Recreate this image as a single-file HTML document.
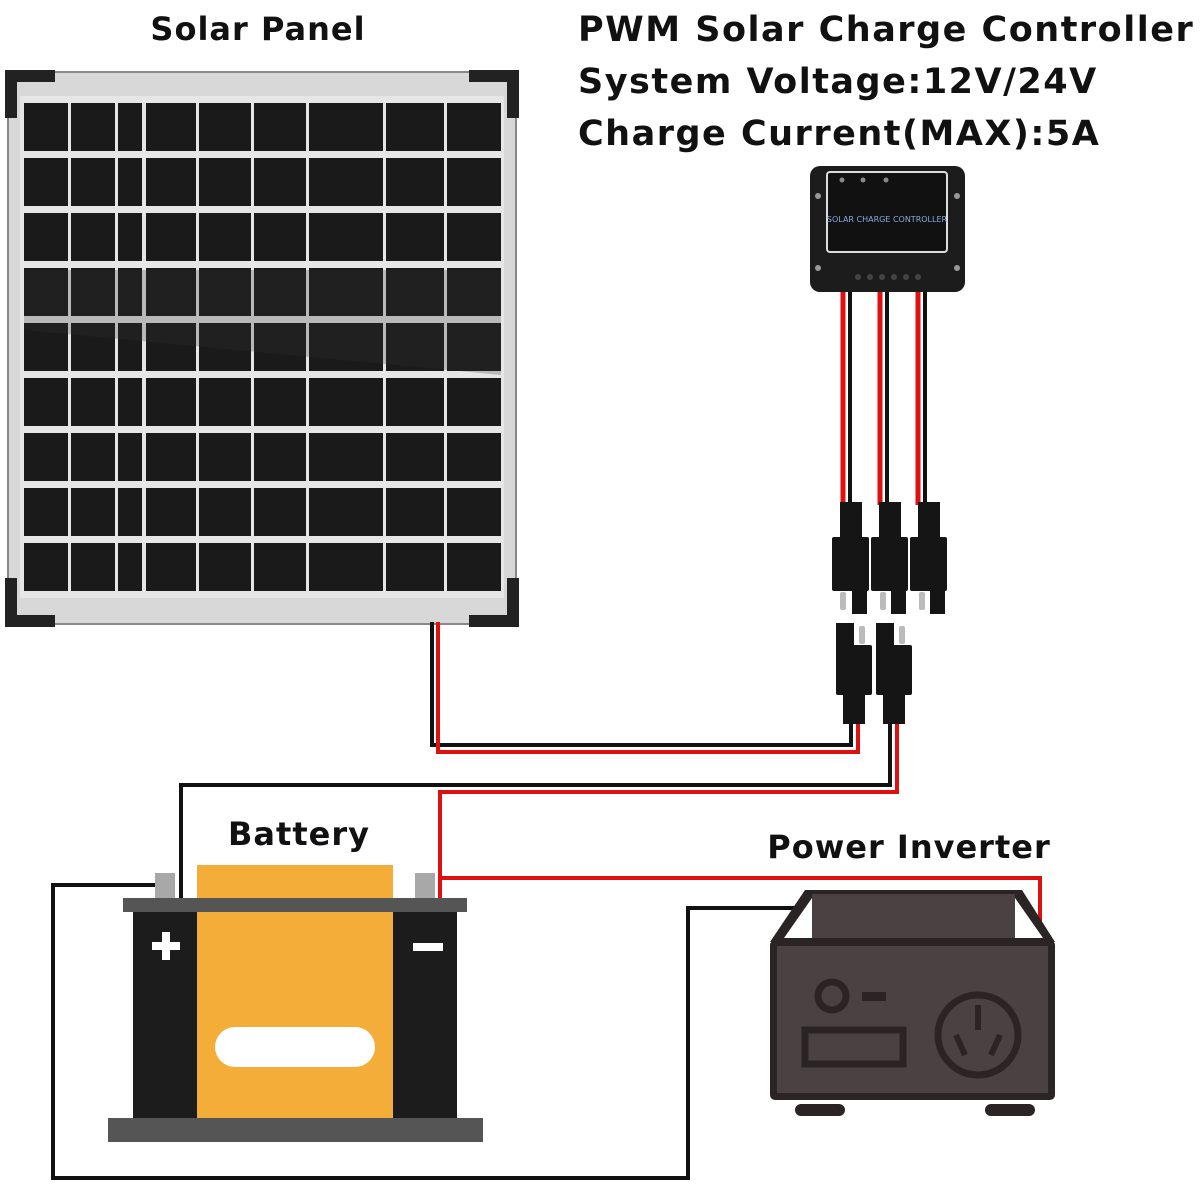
<!DOCTYPE html>
<html><head><meta charset="utf-8"><style>
html,body{margin:0;padding:0;background:#fff}
svg{display:block}
text{font-family:"DejaVu Sans","Liberation Sans",sans-serif;font-weight:bold;fill:#111}
</style></head><body>
<svg width="1200" height="1200" viewBox="0 0 1200 1200" xmlns="http://www.w3.org/2000/svg">
<defs>
<g id="row">
<rect x="24" y="0" width="44" height="48"/><rect x="71" y="0" width="44" height="48"/><rect x="118" y="0" width="24" height="48"/>
<rect x="146" y="0" width="50" height="48"/><rect x="199" y="0" width="52" height="48"/><rect x="254" y="0" width="52" height="48"/>
<rect x="309" y="0" width="74" height="48"/><rect x="386" y="0" width="58" height="48"/><rect x="447" y="0" width="54" height="48"/>
</g>
</defs>
<!-- Titles -->
<text x="258" y="40" font-size="32" text-anchor="middle" letter-spacing="1">Solar Panel</text>
<text x="578" y="41" font-size="35" letter-spacing="1.5">PWM Solar Charge Controller</text>
<text x="578" y="93" font-size="35" letter-spacing="1.5">System Voltage:12V/24V</text>
<text x="578" y="145" font-size="35" letter-spacing="1.5">Charge Current(MAX):5A</text>
<text x="299" y="845" font-size="32" text-anchor="middle" letter-spacing="1">Battery</text>
<text x="909" y="858" font-size="32" text-anchor="middle" letter-spacing="1">Power Inverter</text>

<!-- Solar panel -->
<rect x="8" y="72" width="508" height="552" fill="#d8d8d8" stroke="#888" stroke-width="2"/>
<rect x="20" y="96" width="484" height="502" fill="#e6e6e6"/>
<g fill="#1a1a1a">
<use href="#row" y="103"/><use href="#row" y="158"/><use href="#row" y="213"/><use href="#row" y="268"/>
<use href="#row" y="323"/><use href="#row" y="378"/><use href="#row" y="433"/><use href="#row" y="488"/><use href="#row" y="543"/>
</g>
<polygon points="24,270 501,270 501,375 24,330" fill="#333" opacity="0.25"/>
<!-- corner brackets -->
<g fill="#222">
<path d="M5,70 H55 V82 H17 V118 H5 Z"/>
<path d="M519,70 H469 V82 H507 V118 H519 Z"/>
<path d="M5,627 H55 V615 H17 V578 H5 Z"/>
<path d="M519,627 H469 V615 H507 V578 H519 Z"/>
</g>

<!-- Wires -->
<g fill="none" stroke-width="4">
<polyline points="432,622 432,745 851,745 851,720" stroke="#111"/>
<polyline points="438,622 438,752 858,752 858,720" stroke="#e01010"/>
<polyline points="890,722 890,785 181,785 181,898" stroke="#111"/>
<polyline points="897,722 897,792 440,792 440,898" stroke="#e01010"/>
<polyline points="440,878 1040,878 1040,935" stroke="#e01010"/>
<polyline points="155,885 53,885 53,1178 688,1178 688,908 802,908" stroke="#111"/>
<line x1="843" y1="290" x2="843" y2="505" stroke="#e01010" stroke-width="5"/>
<line x1="850" y1="290" x2="850" y2="505" stroke="#111" stroke-width="4"/>
<line x1="880" y1="290" x2="880" y2="505" stroke="#e01010" stroke-width="5"/>
<line x1="887" y1="290" x2="887" y2="505" stroke="#111" stroke-width="4"/>
<line x1="918" y1="290" x2="918" y2="505" stroke="#e01010" stroke-width="5"/>
<line x1="925" y1="290" x2="925" y2="505" stroke="#111" stroke-width="4"/>
</g>

<!-- Controller -->
<rect x="810" y="166" width="155" height="126" rx="10" fill="#1c1c1c"/>
<rect x="827" y="172" width="120" height="80" rx="3" fill="#111" stroke="#ddd" stroke-width="2"/>
<text x="887" y="222" font-size="8" text-anchor="middle" style="fill:#8aa8e0;font-weight:normal">SOLAR CHARGE CONTROLLER</text>
<circle cx="842" cy="180" r="2.5" fill="#888"/><circle cx="863" cy="180" r="2.5" fill="#888"/><circle cx="886" cy="180" r="2.5" fill="#888"/>
<circle cx="818" cy="196" r="3" fill="#999"/><circle cx="957" cy="196" r="3" fill="#999"/><circle cx="818" cy="268" r="3" fill="#999"/><circle cx="957" cy="268" r="3" fill="#999"/>
<g fill="#444"><circle cx="858" cy="277" r="3"/><circle cx="870" cy="277" r="3"/><circle cx="882" cy="277" r="3"/><circle cx="894" cy="277" r="3"/><circle cx="906" cy="277" r="3"/><circle cx="918" cy="277" r="3"/></g>

<!-- connectors -->
<g fill="#151515">
<rect x="840" y="502" width="22" height="36"/><rect x="832" y="537" width="37" height="54" rx="2"/><rect x="852" y="590" width="15" height="24"/>
<rect x="879" y="502" width="22" height="36"/><rect x="871" y="537" width="37" height="54" rx="2"/><rect x="891" y="590" width="15" height="24"/>
<rect x="918" y="502" width="22" height="36"/><rect x="910" y="537" width="37" height="54" rx="2"/><rect x="930" y="590" width="15" height="24"/>
<rect x="836" y="623" width="18" height="24"/><rect x="836" y="645" width="36" height="50" rx="2"/><rect x="843" y="694" width="22" height="30"/>
<rect x="876" y="623" width="18" height="24"/><rect x="876" y="645" width="36" height="50" rx="2"/><rect x="883" y="694" width="22" height="30"/>
</g>
<g fill="#bbb"><rect x="840" y="592" width="6" height="18" rx="2"/><rect x="880" y="592" width="6" height="18" rx="2"/><rect x="919" y="592" width="6" height="18" rx="2"/>
<rect x="859" y="626" width="6" height="18" rx="2"/><rect x="899" y="626" width="6" height="18" rx="2"/></g>

<!-- Battery -->
<rect x="197" y="865" width="196" height="40" fill="#f5ad3a"/>
<rect x="155" y="873" width="20" height="27" fill="#a8a8a8"/>
<rect x="415" y="873" width="20" height="27" fill="#a8a8a8"/>
<rect x="123" y="898" width="344" height="14" fill="#555"/>
<rect x="133" y="912" width="324" height="206" fill="#1c1c1c"/>
<rect x="197" y="912" width="196" height="206" fill="#f5ad3a"/>
<rect x="215" y="1027" width="160" height="40" rx="20" fill="#fff"/>
<rect x="108" y="1118" width="375" height="24" fill="#555"/>
<rect x="152" y="942" width="28" height="8" fill="#fff"/><rect x="162" y="932" width="8" height="28" fill="#fff"/>
<rect x="413" y="943" width="30" height="8" fill="#fff"/>

<!-- Inverter -->
<polygon points="805,890 1022,890 1055,942 770,942" fill="#2a2424"/>
<polygon points="812,898 784,938 812,938" fill="#fff"/>
<polygon points="1015,898 1043,938 1015,938" fill="#fff"/>
<rect x="812" y="894" width="203" height="44" fill="#4a4242"/>
<rect x="770" y="940" width="285" height="160" rx="5" fill="#2a2424"/>
<rect x="777" y="946" width="271" height="147" fill="#4a4242"/>
<circle cx="832" cy="996" r="14" fill="#4a4242" stroke="#2a2424" stroke-width="7"/>
<rect x="862" y="992" width="24" height="9" fill="#2a2424"/>
<rect x="805" y="1030" width="98" height="34" fill="#4a4242" stroke="#2a2424" stroke-width="7"/>
<circle cx="978" cy="1035" r="40" fill="#4a4242" stroke="#2a2424" stroke-width="7"/>
<rect x="975" y="1005" width="6" height="25" fill="#2a2424"/>
<line x1="956" y1="1035" x2="965" y2="1055" stroke="#2a2424" stroke-width="6"/>
<line x1="1000" y1="1035" x2="991" y2="1055" stroke="#2a2424" stroke-width="6"/>
<rect x="795" y="1104" width="50" height="12" rx="6" fill="#2a2424"/>
<rect x="985" y="1104" width="50" height="12" rx="6" fill="#2a2424"/>
</svg>
</body></html>
